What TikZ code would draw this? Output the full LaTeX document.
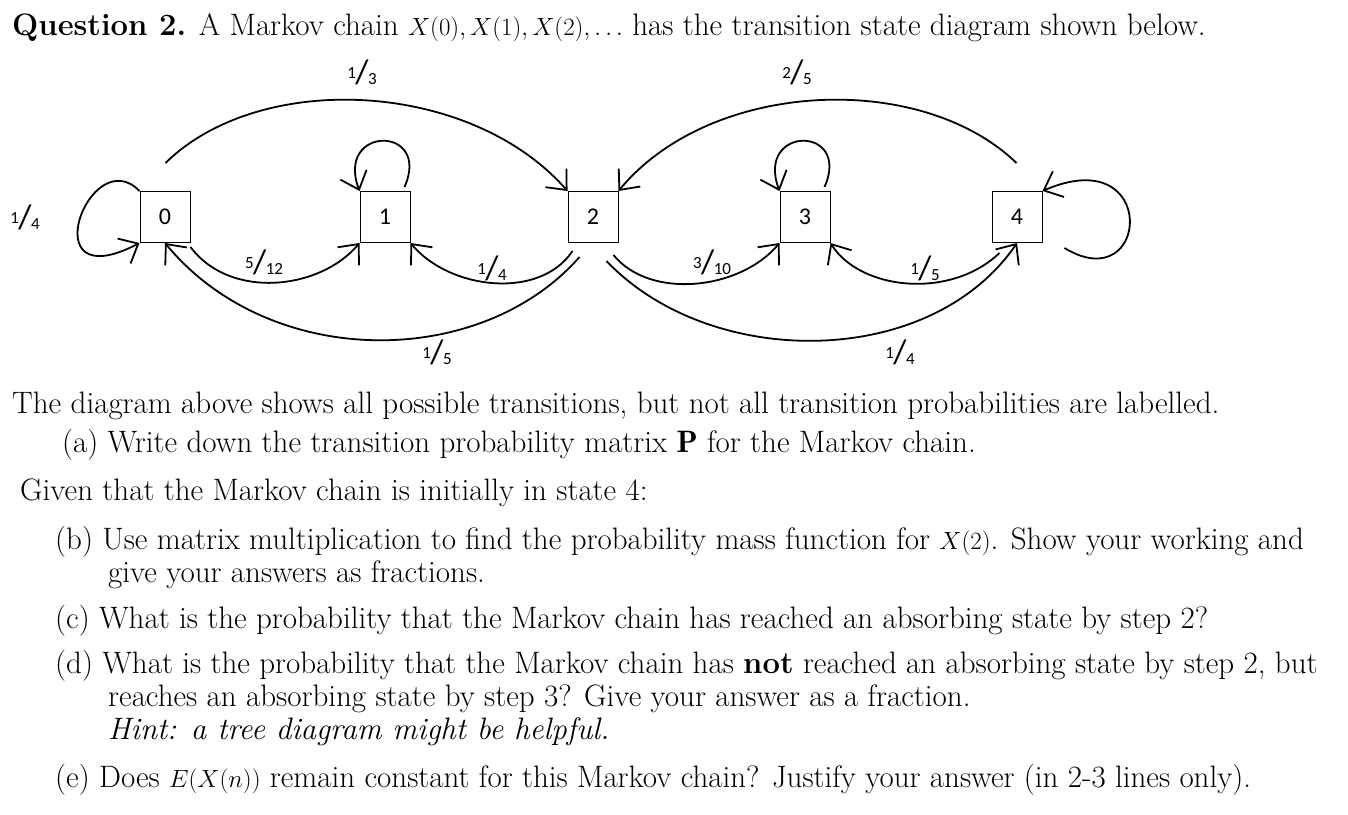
\documentclass[tikz,border=0pt]{standalone}
\usepackage{fontspec}
\usetikzlibrary{arrows.meta}
\newfontfamily\carlito{Carlito}
\newcommand{\myfrac}[2]{{\carlito\raisebox{0.45em}{\fontsize{17}{17}\selectfont #1}\kern-0.05em{\fontsize{34}{34}\selectfont /}\kern-0.05em\raisebox{-0.1em}{\fontsize{17}{17}\selectfont #2}}}
\begin{document}
\begin{tikzpicture}[x=1pt,y=-1pt,
  st/.style={draw,line width=1pt,minimum width=50pt,minimum height=51pt,font=\carlito\fontsize{24}{24}\selectfont},
  ed/.style={line width=1.8pt,-{Straight Barb[length=16pt,width=28pt,line width=1.8pt]}},
  lab/.style={inner sep=0pt},
  tx/.style={anchor=base west,inner sep=0pt,font=\fontsize{31}{36}\selectfont}]
\useasboundingbox (0,0) rectangle (1348,814);
\node[st] (s0) at (165,217) {0};
\node[st] (s1) at (385,217) {1};
\node[st] (s2) at (593,217) {2};
\node[st] (s3) at (805,217) {3};
\node[st] (s4) at (1017,217) {4};
% top arcs
\draw[ed] (s0.north east)++(-25,-28) coordinate (a0) .. controls (260,70) and (470,80) .. (s2.north west);
\draw[ed] (s4.north west)++(25,-28) coordinate (a4) .. controls (920,70) and (710,80) .. (s2.north east);
% self loops
\draw[ed] (s0.north west) .. controls (90,140) and (30,300) .. (s0.south west);
\draw[ed] (s4.south east)++(22,5) coordinate (b4) .. controls (1150,300) and (1160,140) .. (s4.north east);
\draw[ed] (s1.north east)++(-6,-4) coordinate (c1) .. controls (432,125) and (335,125) .. (s1.north west);
\draw[ed] (s3.north east)++(-6,-4) coordinate (c3) .. controls (852,125) and (755,125) .. (s3.north west);
% lower arcs
\draw[ed] (s0.south east)++(0,4) coordinate (d0) .. controls (230,300) and (320,290) .. (s1.south west);
\draw[ed] (s2.south west)++(5,8) coordinate (d2) .. controls (540,300) and (450,290) .. (s1.south east);
\draw[ed] (s2.south west)++(12,14) coordinate (e2) .. controls (480,370) and (270,370) .. (s0.south);
\draw[ed] (s2.south east)++(-5,12) coordinate (f2) .. controls (650,300) and (740,290) .. (s3.south west);
\draw[ed] (s4.south west)++(8,10) coordinate (g4) .. controls (950,300) and (860,290) .. (s3.south east);
\draw[ed] (s2.south east)++(-12,18) coordinate (h2) .. controls (710,370) and (930,370) .. (s4.south);
% labels
\node[lab] (l1) at (362,72) {\myfrac{1}{3}};
\node[lab] (l2) at (797,72) {\myfrac{2}{5}};
\node[lab] (l3) at (25,217) {\myfrac{1}{4}};
\node[lab] (l4) at (264,262) {\myfrac{5}{12}};
\node[lab] (l5) at (492,268) {\myfrac{1}{4}};
\node[lab] (l6) at (712,262) {\myfrac{3}{10}};
\node[lab] (l7) at (925,268) {\myfrac{1}{5}};
\node[lab] (l8) at (437,352) {\myfrac{1}{5}};
\node[lab] (l9) at (900,352) {\myfrac{1}{4}};
% text
\node[tx] (t1) at (12,35) {\textbf{Question 2.} A Markov chain $X(0),X(1),X(2),\ldots$ has the transition state diagram shown below.};
\node[tx] (t2) at (12,413) {The diagram above shows all possible transitions, but not all transition probabilities are labelled.};
\node[tx] (t3) at (62,452) {(a) Write down the transition probability matrix $\mathbf{P}$ for the Markov chain.};
\node[tx] (t4) at (20,500) {Given that the Markov chain is initially in state 4:};
\node[tx] (t5) at (55,549) {(b) Use matrix multiplication to find the probability mass function for $X(2)$. Show your working and};
\node[tx] (t6) at (108,582) {give your answers as fractions.};
\node[tx] (t7) at (55,628) {(c) What is the probability that the Markov chain has reached an absorbing state by step 2?};
\node[tx] (t8) at (55,673) {(d) What is the probability that the Markov chain has \textbf{not} reached an absorbing state by step 2, but};
\node[tx] (t9) at (108,706) {reaches an absorbing state by step 3? Give your answer as a fraction.};
\node[tx] (t10) at (108,739) {\textit{Hint: a tree diagram might be helpful.}};
\node[tx] (t11) at (55,787) {(e) Does $E(X(n))$ remain constant for this Markov chain? Justify your answer (in 2-3 lines only).};
\end{tikzpicture}
\end{document}
